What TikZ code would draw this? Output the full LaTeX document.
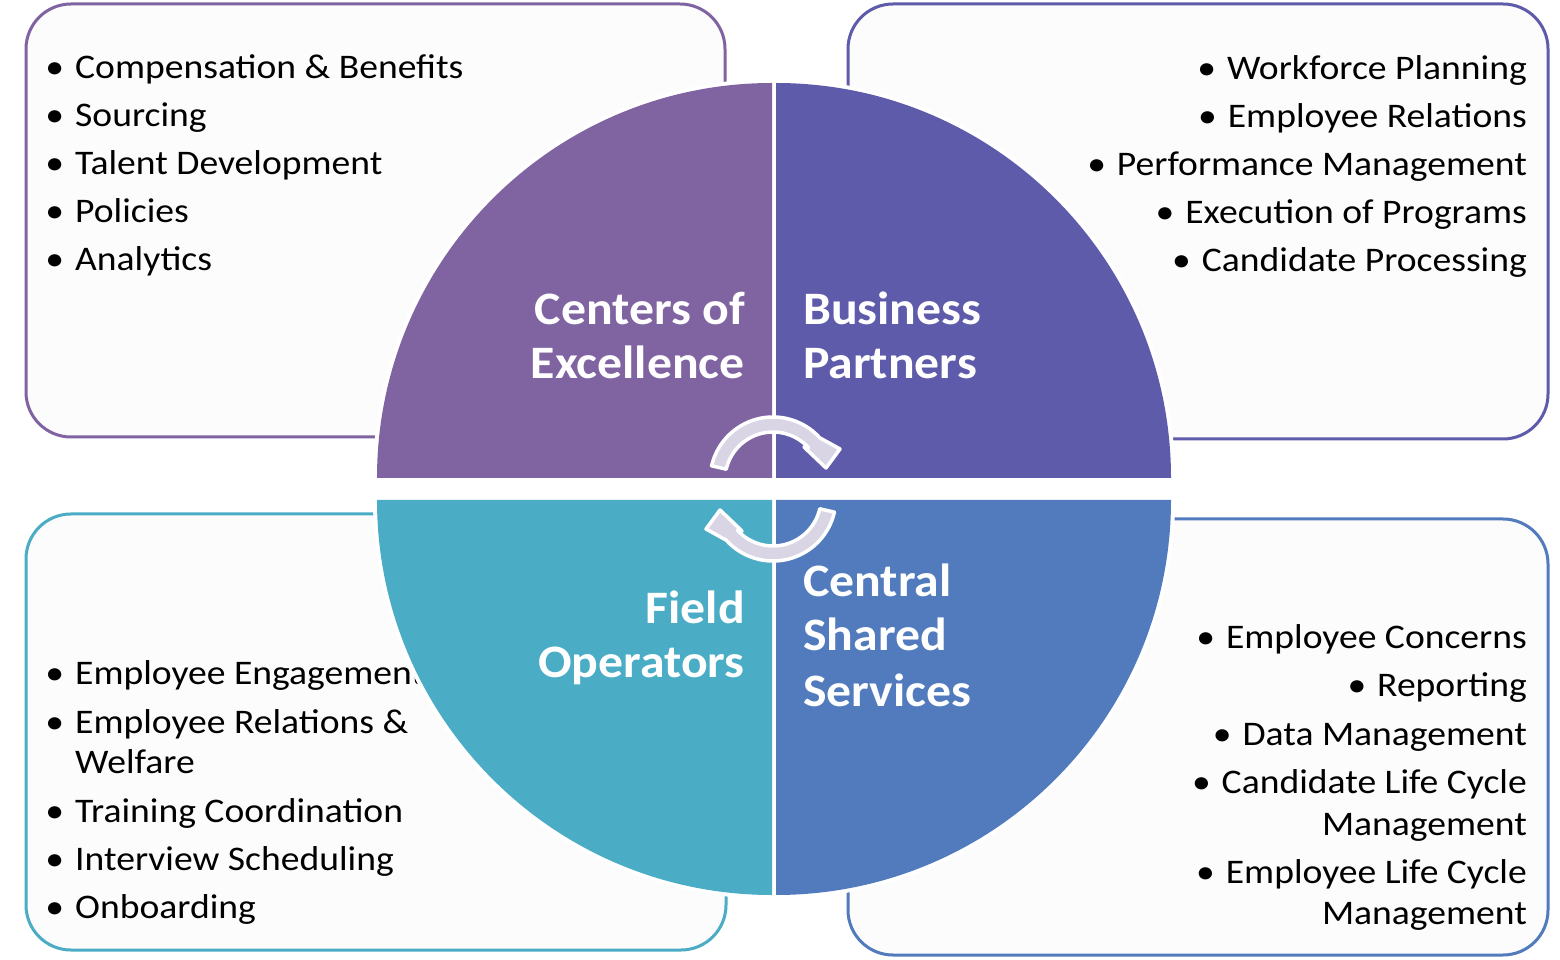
\documentclass[tikz,border=0pt]{standalone}
\usepackage{fontspec}
\setmainfont[FakeStretch=1.09, BoldFeatures={FakeStretch=1.07}]{Carlito}
\definecolor{cTL}{HTML}{8064A2}
\definecolor{cTR}{HTML}{5F5BAB}
\definecolor{cBL}{HTML}{4BACC6}
\definecolor{cBR}{HTML}{517BBD}
\definecolor{boxfill}{HTML}{FCFCFC}
\definecolor{arrowfill}{HTML}{D9D5E5}
\newcommand{\bul}{\llap{\textbullet\hspace{11pt}}}
\begin{document}
\begin{tikzpicture}[x=1pt,y=1pt,
  box/.style={line width=3pt, rounded corners=45pt, fill=boxfill},
  item/.style={inner sep=0pt, font=\fontsize{34.5}{40}\selectfont},
  lab/.style={inner sep=0pt, text=white, font=\bfseries\fontsize{46.5}{54}\selectfont},
  arr/.style={fill=arrowfill, draw=white, line width=3.5pt, line join=round}
]
\useasboundingbox (0,0) rectangle (1560,959);
\fill[white] (0,0) rectangle (1560,959);

% boxes
\draw[box, draw=cTL] (26,522) rectangle (725,955);
\draw[box, draw=cTR] (848,520) rectangle (1548,955);
\draw[box, draw=cBL] (26,9) rectangle (726,445);
\draw[box, draw=cBR] (848,4) rectangle (1548,440);

% top-left items
\node[item, anchor=base west] (tl1) at (75,880) {\bul Compensation \& Benefits};
\node[item, anchor=base west] (tl2) at (75,832) {\bul Sourcing};
\node[item, anchor=base west] (tl3) at (75,784) {\bul Talent Development};
\node[item, anchor=base west] (tl4) at (75,736) {\bul Policies};
\node[item, anchor=base west] (tl5) at (75,688) {\bul Analytics};

% top-right items
\node[item, anchor=base east] (tr1) at (1527,879) {\bul Workforce Planning};
\node[item, anchor=base east] (tr2) at (1527,831) {\bul Employee Relations};
\node[item, anchor=base east] (tr3) at (1527,783) {\bul Performance Management};
\node[item, anchor=base east] (tr4) at (1527,735) {\bul Execution of Programs};
\node[item, anchor=base east] (tr5) at (1527,687) {\bul Candidate Processing};

% bottom-left items
\node[item, anchor=base west] (bl1) at (75,274) {\bul Employee Engagement};
\node[item, anchor=base west] (bl2) at (75,226) {\bul Employee Relations \&};
\node[item, anchor=base west] (bl2b) at (75,186) {Welfare};
\node[item, anchor=base west] (bl3) at (75,137) {\bul Training Coordination};
\node[item, anchor=base west] (bl4) at (75,89) {\bul Interview Scheduling};
\node[item, anchor=base west] (bl5) at (75,41) {\bul Onboarding};

% bottom-right items
\node[item, anchor=base east] (br1) at (1527,310) {\bul Employee Concerns};
\node[item, anchor=base east] (br2) at (1527,262) {\bul Reporting};
\node[item, anchor=base east] (br3) at (1527,214) {\bul Data Management};
\node[item, anchor=base east] (br4) at (1527,166) {\bul Candidate Life Cycle};
\node[item, anchor=base east] (br4b) at (1527,124) {Management};
\node[item, anchor=base east] (br5) at (1527,76) {\bul Employee Life Cycle};
\node[item, anchor=base east] (br5b) at (1527,35) {Management};

% pies: white halo then colour
\fill[white] (772,481) -- ++(-399,0) arc[start angle=180,end angle=90,radius=399] -- cycle;
\fill[white] (776,481) -- ++(0,399) arc[start angle=90,end angle=0,radius=399] -- cycle;
\fill[white] (772,459) -- ++(0,-399) arc[start angle=270,end angle=180,radius=399] -- cycle;
\fill[white] (776,459) -- ++(399,0) arc[start angle=0,end angle=-90,radius=399] -- cycle;
\fill[cTL] (772,481) -- ++(-395,0) arc[start angle=180,end angle=90,radius=395] -- cycle;
\fill[cTR] (776,481) -- ++(0,395) arc[start angle=90,end angle=0,radius=395] -- cycle;
\fill[cBL] (772,459) -- ++(0,-395) arc[start angle=270,end angle=180,radius=395] -- cycle;
\fill[cBR] (776,459) -- ++(395,0) arc[start angle=0,end angle=-90,radius=395] -- cycle;

% circular arrows
\path[arr] ([shift={(773,479)}]167:63) arc[start angle=167,end angle=42,radius=63]
  -- (840,510) -- (826,491) -- (804,512)
  -- ([shift={(773,479)}]42:48) arc[start angle=42,end angle=167,radius=48] -- cycle;
\begin{scope}[rotate around={180:(773,470)}]
\path[arr] ([shift={(773,479)}]167:63) arc[start angle=167,end angle=42,radius=63]
  -- (840,510) -- (826,491) -- (804,512)
  -- ([shift={(773,479)}]42:48) arc[start angle=42,end angle=167,radius=48] -- cycle;
\end{scope}

% quadrant labels
\node[lab, anchor=base east] (coe1) at (745,634) {Centers of};
\node[lab, anchor=base east] (coe2) at (745,580) {Excellence};
\node[lab, anchor=base west] (bp1) at (803,634) {Business};
\node[lab, anchor=base west] (bp2) at (803,580) {Partners};
\node[lab, anchor=base east] (fo1) at (745,335) {Field};
\node[lab, anchor=base east] (fo2) at (745,281) {Operators};
\node[lab, anchor=base west] (cs1) at (803,362) {Central};
\node[lab, anchor=base west] (cs2) at (803,308) {Shared};
\node[lab, anchor=base west] (cs3) at (803,253) {Services};
\end{tikzpicture}
\end{document}
